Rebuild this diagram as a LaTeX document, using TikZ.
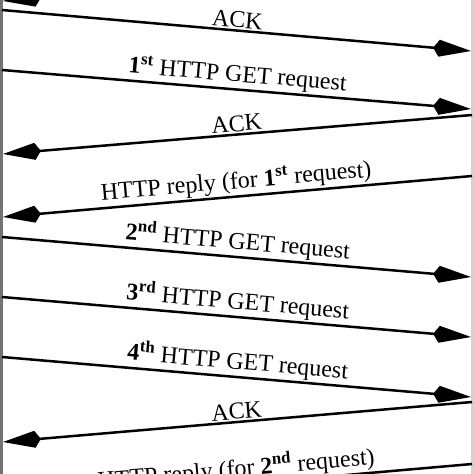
\documentclass[tikz,border=0pt]{standalone}
\usepackage{fontspec}
\setmainfont{Liberation Serif}
\usetikzlibrary{arrows.meta}
\tikzset{>={Kite[length=38pt, width=17pt, inset=6pt]}}
\tikzset{msg/.style={line width=2.5pt, ->},
    lbl/.style={midway, above, sloped, inner sep=1.5pt, font=\fontsize{24}{28}\selectfont}}

\begin{document}
\begin{tikzpicture}[x=1pt, y=1pt]
    \clip(0, 0)rectangle(474, -474);
    \fill[white](0, 0)rectangle(474, -474);
    % the two hosts
    \draw[gray!90!black, line width=3pt](1, 20)--(1, -500);
    \draw[gray!35, line width=3pt](472.5, 20)--(472.5, -500);
    % ends of the messages
    \coordinate(r0) at(472, 40);    \coordinate(l0) at(3, -1);
    \coordinate(l1) at(2, -10);     \coordinate(r1) at(471, -51);
    \coordinate(l2) at(2, -70);     \coordinate(r2) at(471, -109);
    \coordinate(r3) at(472, -115);  \coordinate(l3) at(3, -154);
    \coordinate(r4) at(472, -176);  \coordinate(l4) at(3, -217);
    \coordinate(l5) at(2, -237);    \coordinate(r5) at(471, -277);
    \coordinate(l6) at(2, -297);    \coordinate(r6) at(471, -337);
    \coordinate(l7) at(2, -357);    \coordinate(r7) at(471, -397);
    \coordinate(r8) at(472, -402);  \coordinate(l8) at(3, -442);
    \coordinate(r9) at(472, -464);  \coordinate(l9) at(3, -505);
    % messages
    \draw[msg](r0)--(l0);
    \draw[msg](l1)--(r1)node[lbl](ack1){ACK};
    \draw[msg](l2)--(r2)node[lbl](get1){\textbf{1\textsuperscript{st}} HTTP GET request};
    \draw[msg](r3)--(l3)node[lbl](ack2){ACK};
    \draw[msg](r4)--(l4)node[lbl](reply1){HTTP reply (for \textbf{1\textsuperscript{st}} request)};
    \draw[msg](l5)--(r5)node[lbl](get2){\textbf{2\textsuperscript{nd}} HTTP GET request};
    \draw[msg](l6)--(r6)node[lbl](get3){\textbf{3\textsuperscript{rd}} HTTP GET request};
    \draw[msg](l7)--(r7)node[lbl](get4){\textbf{4\textsuperscript{th}} HTTP GET request};
    \draw[msg](r8)--(l8)node[lbl](ack3){ACK};
    \draw[msg](r9)--(l9)node[lbl](reply2){HTTP reply (for \textbf{2\textsuperscript{nd}} request)};
\end{tikzpicture}
\end{document}
